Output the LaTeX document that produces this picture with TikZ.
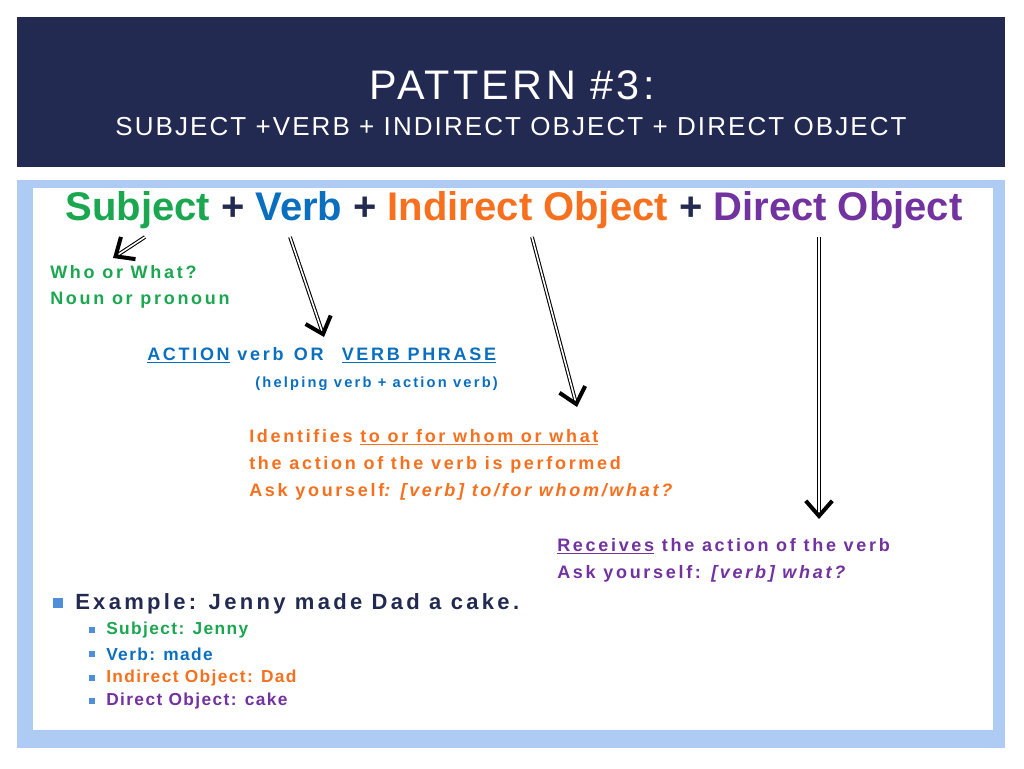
\documentclass[tikz,border=0pt]{standalone}
\usepackage{fontspec}
\setmainfont{Liberation Sans}
\newfontfamily\spaced[LetterSpace=8]{Liberation Sans}
\newfontfamily\wide[LetterSpace=15]{Liberation Sans}
\usetikzlibrary{arrows.meta,positioning}
\definecolor{navy}{HTML}{232A52}
\definecolor{frame}{HTML}{AECBF4}
\definecolor{subj}{HTML}{1BA650}
\definecolor{verb}{HTML}{0B6FC0}
\definecolor{indobj}{HTML}{F7701E}
\definecolor{dirobj}{HTML}{7232A0}
\definecolor{bullet}{HTML}{4F8FD9}
\tikzset{
    line/.style={anchor=west,inner sep=0pt,font=\wide\bfseries\fontsize{13.5}{16}\selectfont},
    pointer/.style={draw=black,double=white,double distance=1.2pt,line width=0.8pt,
        -{Straight Barb[length=4mm,width=7mm,line width=3pt]}},
    sq/.style={fill=bullet,minimum size=5pt,inner sep=0pt}
}
\begin{document}
\begin{tikzpicture}[x=0.75pt,y=-0.75pt]
    \useasboundingbox (0,0) rectangle (1024,768);
    \fill[white] (0,0) rectangle (1024,768);
    \fill[navy] (17,17) rectangle (1005,167);
    \fill[frame] (17,180) rectangle (1005,748);
    \fill[white] (33,188) rectangle (993,730);

    \node (title) at (512,85) [text=white,font=\spaced\fontsize{31}{34}\selectfont] {PATTERN \#3:};
    \node (subtitle) at (511,127) [text=white,font=\spaced\fontsize{19.5}{22}\selectfont] {SUBJECT +VERB + INDIRECT OBJECT + DIRECT OBJECT};

    \node (heading) at (514,210) [font=\bfseries\fontsize{30}{34}\selectfont,text=navy]
        {\textcolor{subj}{Subject} + \textcolor{verb}{Verb} + \textcolor{indobj}{Indirect Object} + \textcolor{dirobj}{Direct Object}};

    % subject
    \node[line,text=subj] (who) at (50,272) {Who or What?};
    \node[line,text=subj] (noun) at (50,300) {Noun or pronoun};
    % verb
    \node[line,text=verb] (action) at (147,355) {\underline{ACTION} verb \textbf{OR}\ \ \underline{VERB PHRASE}};
    \node[line,text=verb,font=\wide\fontsize{11}{13}\selectfont\bfseries] (helping) at (255,384) {(helping verb + action verb)};
    % indirect object
    \node[line,text=indobj] (ident) at (249,437) {Identifies \underline{to or for whom or what}};
    \node[line,text=indobj] (perf) at (249,465) {the action of the verb is performed};
    \node[line,text=indobj] (askio) at (249,492) {Ask yourself\textit{: [verb] to/for whom/what?}};
    % direct object
    \node[line,text=dirobj] (recv) at (557,546) {\underline{Receives} the action of the verb};
    \node[line,text=dirobj] (askdo) at (557,574) {Ask yourself: \textit{[verb] what?}};

    \coordinate (s1) at (145,237); \coordinate (s2) at (113,258);
    \coordinate (v1) at (290,237); \coordinate (v2) at (324,337);
    \coordinate (i1) at (532,237); \coordinate (i2) at (577,407);
    \coordinate (d1) at (819,237); \coordinate (d2) at (819,519);
    \draw[pointer] (s1) -- (s2);
    \draw[pointer] (v1) -- (v2);
    \draw[pointer] (i1) -- (i2);
    \draw[pointer] (d1) -- (d2);

    % example list
    \node[sq,minimum size=8pt] (b0) at (58,603) {};
    \node[line,text=navy,font=\bfseries\wide\fontsize{16.5}{18}\selectfont] (ex) at (75,604) {Example: Jenny made Dad a cake.};
    \node[sq] (b1) at (92,630) {};
    \node[line,text=subj,font=\spaced\fontsize{13}{15}\selectfont\bfseries] (exs) at (106,630) {Subject: Jenny};
    \node[sq] (b2) at (92,654) {};
    \node[line,text=verb,font=\spaced\fontsize{13}{15}\selectfont\bfseries] (exv) at (106,654) {Verb: made};
    \node[sq] (b3) at (92,678) {};
    \node[line,text=indobj,font=\spaced\fontsize{13}{15}\selectfont\bfseries] (exi) at (106,678) {Indirect Object: Dad};
    \node[sq] (b4) at (92,701) {};
    \node[line,text=dirobj,font=\spaced\fontsize{13}{15}\selectfont\bfseries] (exd) at (106,701) {Direct Object: cake};
\end{tikzpicture}
\end{document}
